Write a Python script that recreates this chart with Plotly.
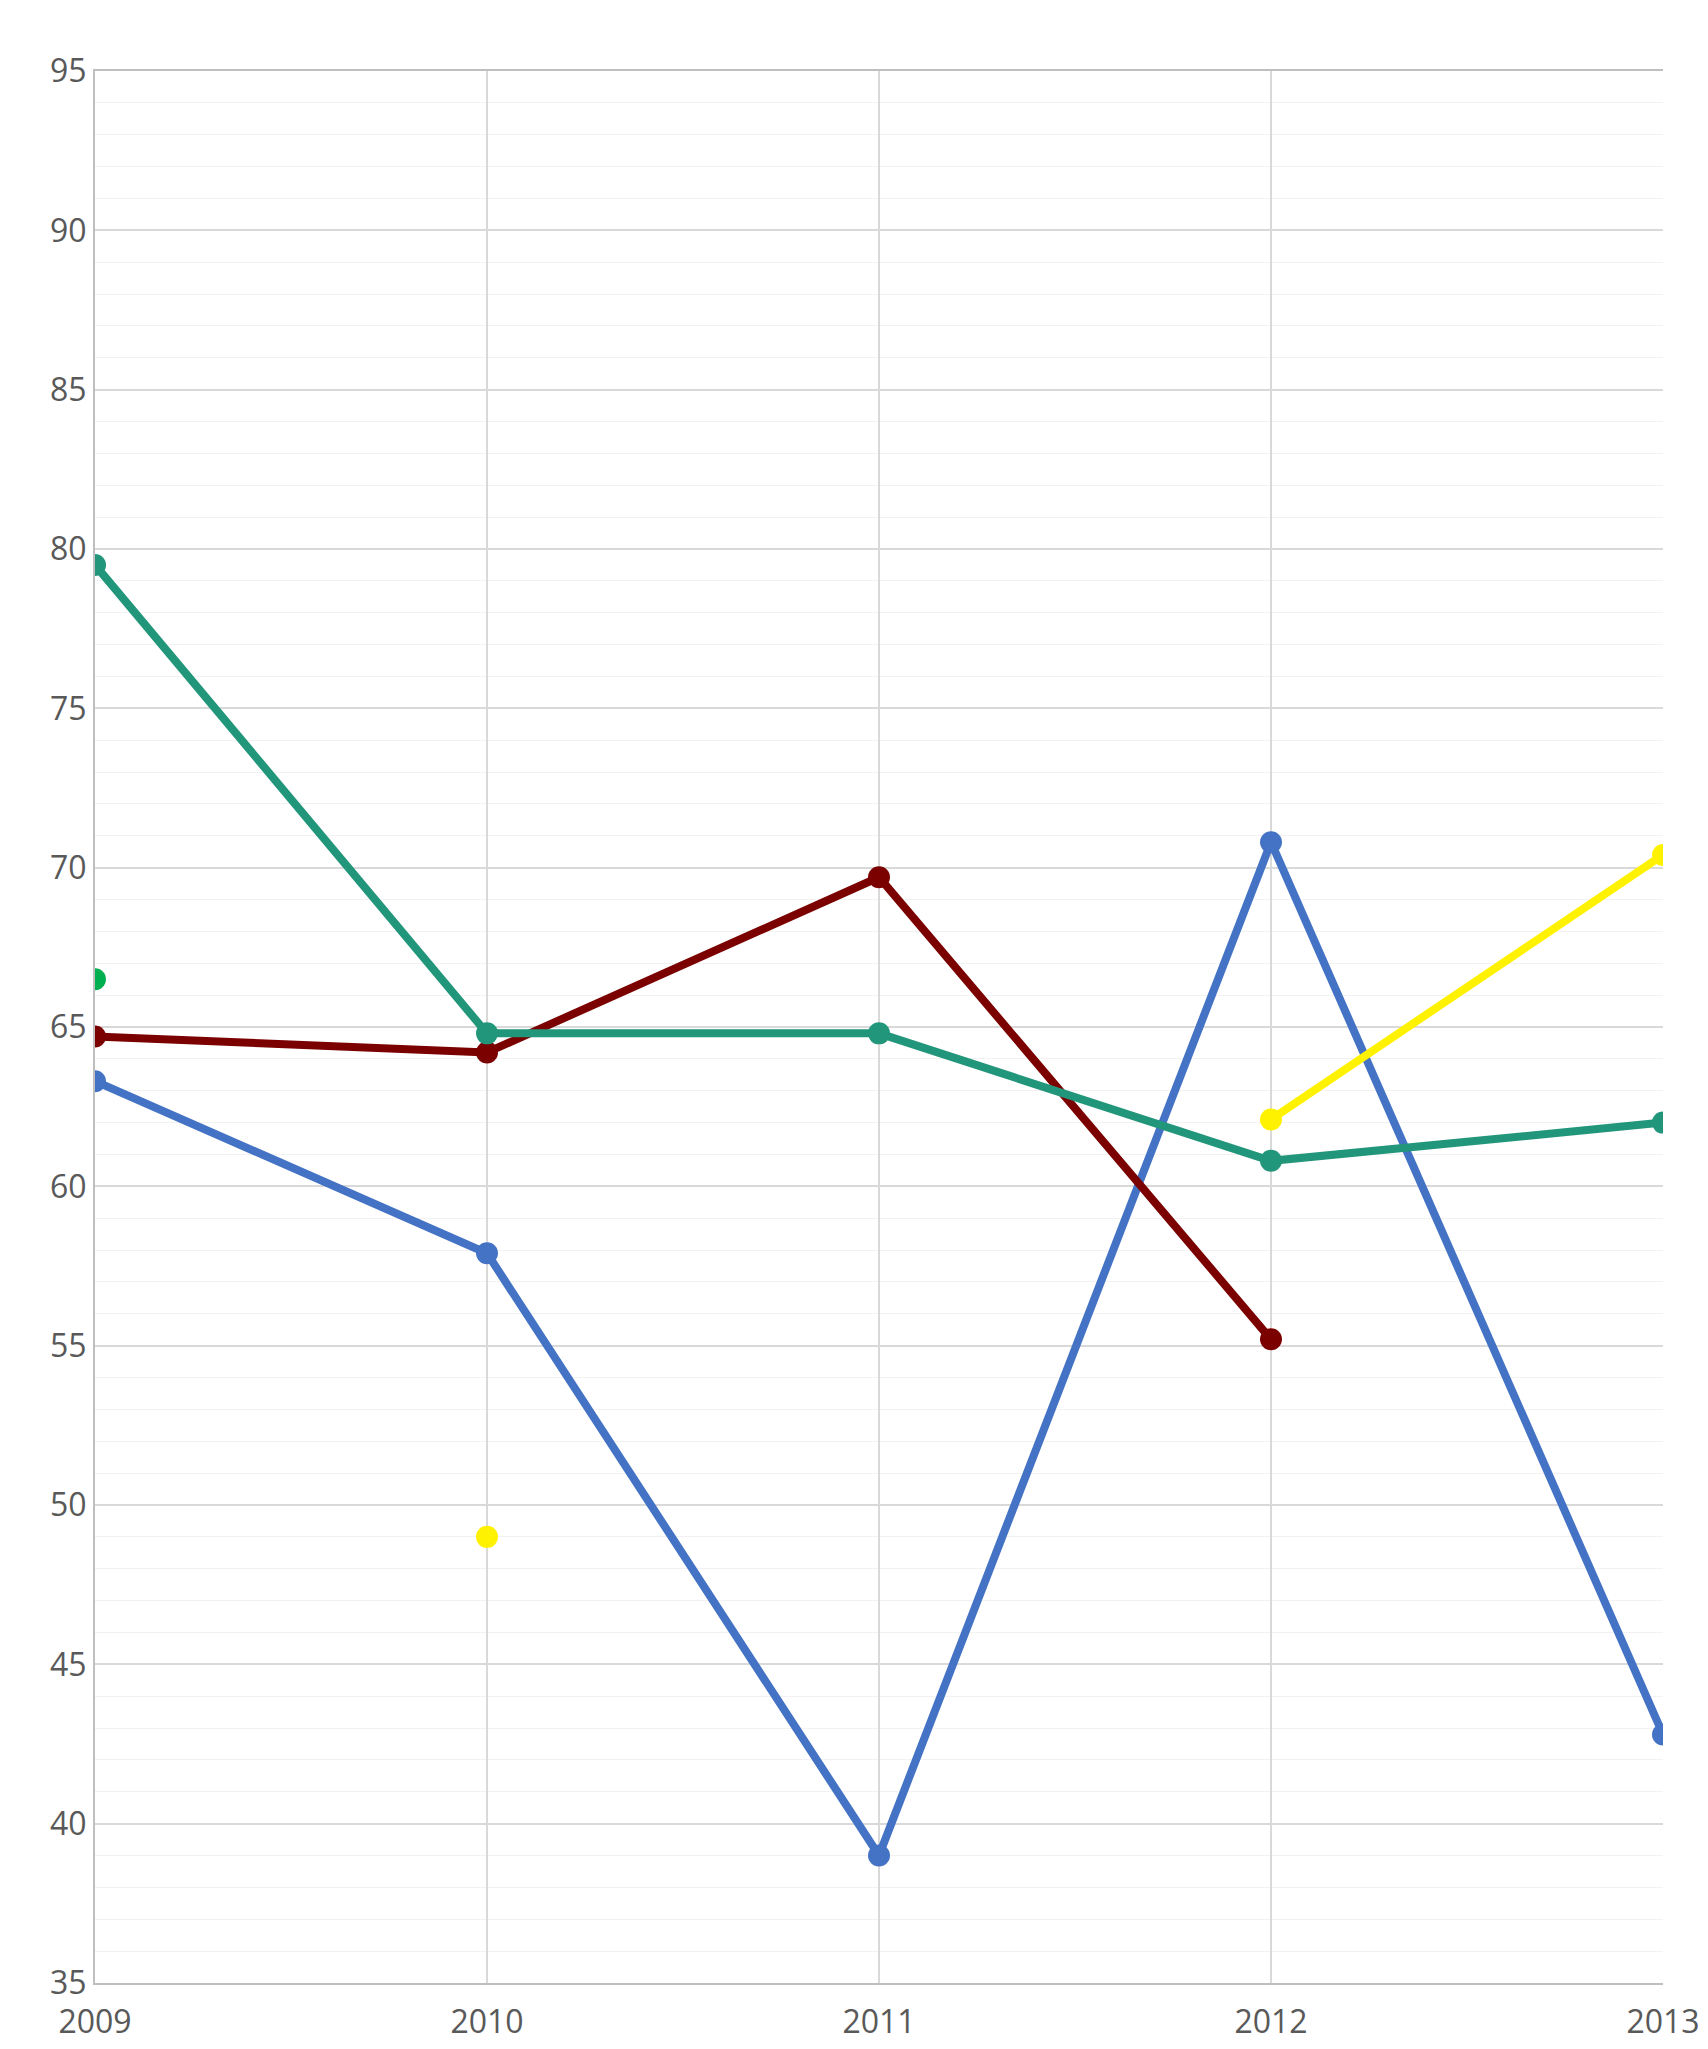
import plotly.graph_objects as go

years = [2009, 2010, 2011, 2012, 2013]
blue = [63.3, 57.9, 39.0, 70.8, 42.8]
darkred = [64.7, 64.2, 69.7, 55.2, None]
teal = [79.5, 64.8, 64.8, 60.8, 62.0]
yellow = [None, 49.0, None, 62.1, 70.4]
green = [66.5, None, None, None, None]

fig = go.Figure()
def add(y, c):
    fig.add_trace(go.Scatter(x=years, y=y, mode="lines+markers", connectgaps=False,
                             line=dict(color=c, width=8), marker=dict(color=c, size=22)))
add(blue, "#4472C4")
add(darkred, "#7B0000")
add(teal, "#22967A")
add(yellow, "#FFF200")
add(green, "#00B050")

fig.update_layout(
    width=1708, height=2049, showlegend=False,
    plot_bgcolor="white", paper_bgcolor="white",
    margin=dict(l=87, r=53, t=63, b=74),
    font=dict(family="Open Sans", size=32, color="#595959"),
)
fig.update_xaxes(range=[2009, 2013], tickvals=years, showgrid=True, gridcolor="#D9D9D9",
                 gridwidth=2, showline=True, linecolor="#BFBFBF", linewidth=2, zeroline=False,
                 mirror=True, ticks="", ticklabelstandoff=10)
fig.update_yaxes(range=[35, 95], dtick=5, showgrid=True, gridcolor="#D9D9D9", gridwidth=2,
                 minor=dict(dtick=1, showgrid=True, gridcolor="#F2F2F2", gridwidth=1),
                 showline=True, linecolor="#BFBFBF", linewidth=2, zeroline=False, ticks="")
fig.write_html("out.html")
